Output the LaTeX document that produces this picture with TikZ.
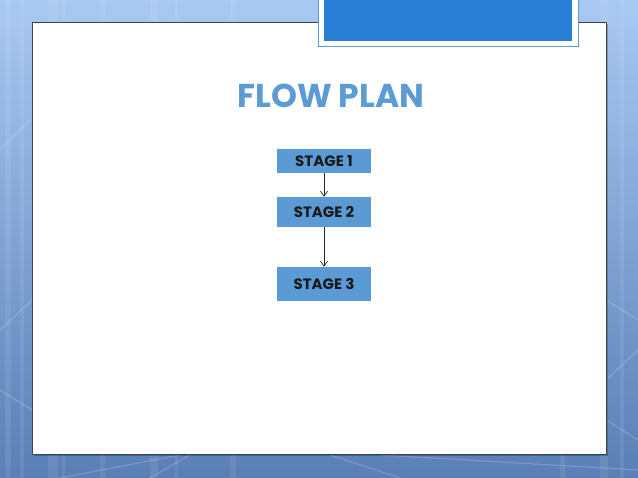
\documentclass[tikz,border=0pt]{standalone}
\usepackage{fontspec}
\setmainfont{Poppins}
\usetikzlibrary{arrows.meta}
\definecolor{bgtop}{HTML}{A9C8F2}
\definecolor{bgbot}{HTML}{5A7FB6}
\definecolor{stagefill}{HTML}{5B9BD5}
\definecolor{titleblue}{HTML}{5D9BD3}
\definecolor{tabblue}{HTML}{2A7FD6}
\definecolor{panelline}{HTML}{3C4450}
\tikzset{
  stagebox/.style={draw=none, fill=stagefill, minimum width=94pt, inner sep=0pt,
    font=\fontsize{15}{17}\selectfont\bfseries, text=black!90},
  flowarrow/.style={draw=black!85, line width=0.7pt, -{Straight Barb[length=5pt,width=7pt]}},
  bgline/.style={draw=white, opacity=0.18, line width=1.2pt},
}
\begin{document}
\begin{tikzpicture}[x=1pt,y=-1pt]
\useasboundingbox (0,0) rectangle (638,478);
% background
\shade[top color=bgtop, bottom color=bgbot] (0,0) rectangle (638,478);
% faint geometric stripes
\foreach \x/\w in {5/6, 20/4, 48/10, 62/3, 100/5, 150/8, 175/3, 230/6, 560/5, 600/8, 620/4}{
  \fill[white, opacity=0.08] (\x,0) rectangle (\x+\w,478);
}
\draw[bgline] (0,150) -- (30,120);
\draw[bgline] (0,330) -- (32,300);
\draw[bgline] (0,390) -- (32,410);
\draw[bgline] (60,478) -- (180,455);
\draw[bgline] (150,478) -- (190,455);
\draw[bgline] (330,455) -- (400,478);
\draw[bgline] (380,455) -- (638,470);
\draw[bgline] (606,380) -- (638,350);
\draw[bgline] (606,420) -- (638,440);
\draw[bgline] (606,300) -- (638,320);
% panel
\fill[black, opacity=0.25] (34,24) rectangle (608,456);
\node[draw=panelline, line width=0.8pt, fill=white, minimum width=574pt, minimum height=432pt, inner sep=0pt, anchor=north west] (panel) at (32,22) {};
% tab
\node[draw=stagefill, line width=0.8pt, fill=white, minimum width=260pt, minimum height=47pt, inner sep=0pt, anchor=north west] (tabouter) at (318,-1) {};
\node[fill=tabblue, minimum width=248pt, minimum height=42pt, inner sep=0pt, anchor=north west] (tab) at (324,-1) {};
% title
\node[text=titleblue, font=\fontsize{33}{36}\selectfont\bfseries] (title) at (331,96) {FLOW PLAN};
% stages
\node[stagebox, minimum height=24pt] (s1) at (324,161) {STAGE 1};
\node[stagebox, minimum height=30pt] (s2) at (324,212) {STAGE 2};
\node[stagebox, minimum height=34pt] (s3) at (324,284) {STAGE 3};
\draw[flowarrow] (s1) -- (s2);
\draw[flowarrow] (s2) -- (s3);
\end{tikzpicture}
\end{document}
